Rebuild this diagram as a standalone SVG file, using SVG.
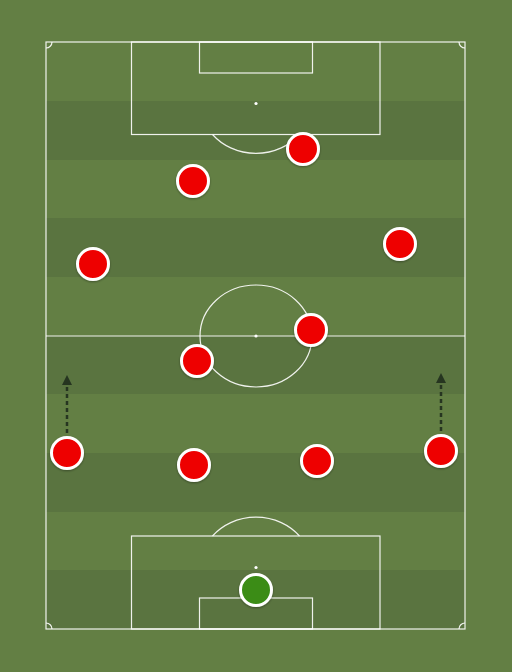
<svg xmlns="http://www.w3.org/2000/svg" width="512" height="672" viewBox="0 0 512 672">
<defs>
<style>
.line{fill:none;stroke:#ffffff;stroke-width:1.2;stroke-opacity:0.9}
.dark{fill:#5a7440}
.p{fill:#ee0000;stroke:#ffffff;stroke-width:3}
.gk{fill:#3a8c18;stroke:#ffffff;stroke-width:3}
.mv{fill:none;stroke:#263520;stroke-width:2.5;stroke-dasharray:4,3}
</style>
<marker id="ah" viewBox="0 0 10 10" refX="5" refY="5" markerWidth="4" markerHeight="4" orient="auto">
<path d="M0,0 L10,5 L0,10 z" fill="#263520"/>
</marker>
<filter id="sh" x="-30%" y="-30%" width="160%" height="160%">
<feDropShadow dx="0" dy="1" stdDeviation="1" flood-color="#000" flood-opacity="0.35"/>
</filter>
</defs>
<rect width="512" height="672" fill="#637f44"/>
<g id="stripes">
<rect class="dark" x="46" y="101" width="419" height="59"/>
<rect class="dark" x="46" y="218" width="419" height="59"/>
<rect class="dark" x="46" y="336" width="419" height="58"/>
<rect class="dark" x="46" y="453" width="419" height="59"/>
<rect class="dark" x="46" y="570" width="419" height="59"/>
</g>
<g id="pitch">
<rect class="line" x="46" y="42" width="419" height="587"/>
<line class="line" x1="46" y1="336" x2="465" y2="336"/>
<ellipse class="line" cx="256" cy="336" rx="56" ry="51"/>
<circle cx="256" cy="336" r="1.6" fill="#fff"/>
<rect class="line" x="131.5" y="42" width="248.5" height="92.5"/>
<rect class="line" x="199.5" y="42" width="113" height="31"/>
<circle cx="256" cy="103.5" r="1.6" fill="#fff"/>
<path class="line" d="M212.5,134.5 A56,51 0 0 0 299.5,134.5"/>
<rect class="line" x="131.5" y="536" width="248.5" height="93"/>
<rect class="line" x="199.5" y="598" width="113" height="31"/>
<circle cx="256" cy="567.5" r="1.6" fill="#fff"/>
<path class="line" d="M212.5,536 A56,51 0 0 1 299.5,536"/>
<path class="line" d="M46,48 A6,6 0 0 0 52,42"/>
<path class="line" d="M459,42 A6,6 0 0 0 465,48"/>
<path class="line" d="M46,623 A6,6 0 0 1 52,629"/>
<path class="line" d="M459,629 A6,6 0 0 1 465,623"/>
</g>
<g id="connectors">
<line class="mv" x1="67" y1="433" x2="67" y2="380" marker-end="url(#ah)"/>
<line class="mv" x1="441" y1="431" x2="441" y2="378" marker-end="url(#ah)"/>
</g>
<g id="p1" filter="url(#sh)"><circle class="p" cx="303" cy="149" r="15.5"/></g>
<g id="p2" filter="url(#sh)"><circle class="p" cx="193" cy="181" r="15.5"/></g>
<g id="p3" filter="url(#sh)"><circle class="p" cx="93" cy="264" r="15.5"/></g>
<g id="p4" filter="url(#sh)"><circle class="p" cx="400" cy="244" r="15.5"/></g>
<g id="p5" filter="url(#sh)"><circle class="p" cx="311" cy="330" r="15.5"/></g>
<g id="p6" filter="url(#sh)"><circle class="p" cx="197" cy="361" r="15.5"/></g>
<g id="p7" filter="url(#sh)"><circle class="p" cx="67" cy="453" r="15.5"/></g>
<g id="p8" filter="url(#sh)"><circle class="p" cx="194" cy="465" r="15.5"/></g>
<g id="p9" filter="url(#sh)"><circle class="p" cx="317" cy="461" r="15.5"/></g>
<g id="p10" filter="url(#sh)"><circle class="p" cx="441" cy="451" r="15.5"/></g>
<g id="gk" filter="url(#sh)"><circle class="gk" cx="256" cy="590" r="15.5"/></g>
</svg>
